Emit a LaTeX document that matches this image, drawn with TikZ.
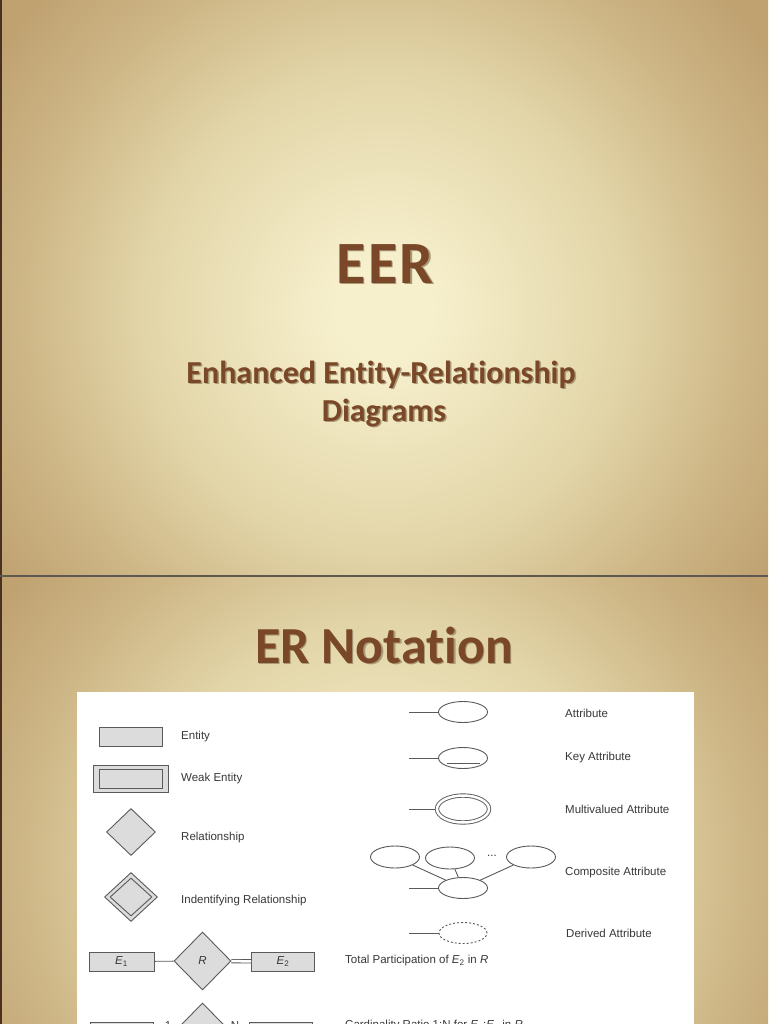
\documentclass[tikz,border=0pt]{standalone}
\usepackage{fontspec}
\setmainfont{Liberation Sans}
\newfontfamily\titlefont{Carlito}[Ligatures=NoCommon]
\usetikzlibrary{shapes.geometric}

\definecolor{bgin}{HTML}{F7F0CD}
\definecolor{bglight}{HTML}{E2D5A8}
\definecolor{bgmid}{HTML}{CDB585}
\definecolor{bgout}{HTML}{C0A271}
\definecolor{edgebrown}{HTML}{4A3020}
\definecolor{rulegray}{HTML}{5E5850}
\definecolor{titlebrown}{HTML}{7A4828}
\definecolor{titleshade}{HTML}{A99A78}
\definecolor{shapefill}{HTML}{DCDCDC}
\definecolor{shapeline}{HTML}{5A5A5A}
\definecolor{notetext}{HTML}{383838}

\pgfdeclareradialshading{slideglow}{\pgfpoint{0bp}{0bp}}{color(0bp)=(bgin); color(3bp)=(bgin); color(15bp)=(bglight); color(23bp)=(bgmid); color(29bp)=(bgout); color(50bp)=(bgout)}

\newcommand{\shtext}[1]{\makebox[0pt][l]{\hspace{1.5pt}\raisebox{-1.5pt}{\color{titleshade}#1}}#1}

\tikzset{
  titletext/.style={anchor=base, inner sep=0pt, text=titlebrown},
  lbl/.style={anchor=west, inner sep=0pt, text=notetext, font=\fontsize{11.5}{13}\selectfont},
  link/.style={draw=shapeline, line width=0.9pt},
  erbox/.style={draw=shapeline, fill=shapefill, line width=0.9pt, inner sep=0pt,
    minimum width=63pt, minimum height=19pt, text=notetext, font=\fontsize{11.5}{13}\selectfont},
  erdiamond/.style={diamond, draw=shapeline, fill=shapefill, line width=0.9pt, inner sep=0pt,
    minimum width=49pt, minimum height=47pt, text=notetext, font=\fontsize{11.5}{13}\selectfont},
  erattr/.style={ellipse, draw=shapeline, fill=white, line width=0.9pt, inner sep=0pt,
    minimum width=49pt, minimum height=21pt}
}

\begin{document}
\begin{tikzpicture}[x=1pt,y=-1pt]
	\useasboundingbox (0,0) rectangle (768,1024);
	\clip (0,0) rectangle (768,1024);
	% slide backgrounds
	\begin{scope}
		\clip (0,0) rectangle (768,575);
		\shade[shading=slideglow] (-16,-90) rectangle (784,710);
	\end{scope}
	\begin{scope}
		\clip (0,577) rectangle (768,1152);
		\shade[shading=slideglow] (-16,465) rectangle (784,1265);
	\end{scope}
	\draw[line width=1.5pt, edgebrown] (0.75,0) -- (0.75,1024);
	\draw[line width=1.5pt, rulegray] (0,576) -- (768,576);

	% first slide
	\node[titletext, font=\titlefont\bfseries\fontsize{60}{64}\selectfont\addfontfeature{LetterSpace=4}] (eer) at (385,283) {\shtext{EER}};
	\node[titletext, font=\titlefont\bfseries\fontsize{32}{38}\selectfont] (subone) at (381,383) {\shtext{Enhanced Entity-Relationship}};
	\node[titletext, font=\titlefont\bfseries\fontsize{32}{38}\selectfont] (subtwo) at (384,421) {\shtext{Diagrams}};

	% second slide
	\node[titletext, font=\titlefont\bfseries\fontsize{52}{56}\selectfont] (ernot) at (384,663) {\shtext{ER Notation}};
	\fill[white] (77,692) rectangle (694,1030);

	% left column
	\node[erbox] (ent) at (130.5,736.5) {};
	\node[lbl] (entlbl) at (181,737) {Entity};
	\node[erbox, minimum width=75pt, minimum height=27pt] (weak) at (130.5,778.5) {};
	\node[erbox] (weakin) at (130.5,778.5) {};
	\node[lbl] (weaklbl) at (181,779) {Weak Entity};
	\node[erdiamond] (rel) at (131,832) {};
	\node[lbl] (rellbl) at (181,838) {Relationship};
	\node[erdiamond, minimum width=53pt, minimum height=49pt] (idrel) at (131,897) {};
	\node[erdiamond, minimum width=42pt, minimum height=38pt] (idrelin) at (131,897) {};
	\node[lbl] (idrellbl) at (181,901) {Indentifying Relationship};

	% right column
	\coordinate (astub) at (409,712);
	\node[erattr] (att) at (463,712) {};
	\draw[link] (astub) -- (att);
	\node[lbl] (attlbl) at (565,713) {Attribute};

	\coordinate (kstub) at (409,758);
	\node[erattr] (katt) at (463,758) {};
	\draw[link] (kstub) -- (katt);
	\draw[link] ([shift={(-16,5)}]katt.center) -- ([shift={(17,5)}]katt.center);
	\node[lbl] (kattlbl) at (565,758) {Key Attribute};

	\coordinate (mstub) at (409,809);
	\node[erattr, double=white, double distance=2.5pt, minimum width=52pt, minimum height=27pt] (matt) at (463,809) {};
	\draw[link] (mstub) -- ([xshift=-2pt]matt.west);
	\node[lbl] (mattlbl) at (565,809) {Multivalued Attribute};

	\node[erattr, minimum height=22pt] (cone) at (395,857) {};
	\node[erattr, minimum height=22pt] (ctwo) at (450,858) {};
	\node[erattr, minimum height=22pt] (cthree) at (531,857) {};
	\node[lbl, anchor=base] (cdots) at (492,856) {...};
	\coordinate (cstub) at (409,888);
	\node[erattr] (catt) at (463,888) {};
	\draw[link] (cstub) -- (catt);
	\draw[link] (cone) -- (catt);
	\draw[link] (ctwo) -- (catt);
	\draw[link] (cthree) -- (catt);
	\node[lbl] (cattlbl) at (565,873) {Composite Attribute};

	\coordinate (dstub) at (409,933);
	\node[erattr, dash pattern=on 2pt off 2pt, minimum width=48pt] (datt) at (463,933) {};
	\draw[link] (dstub) -- (datt);
	\node[lbl] (dattlbl) at (566,933) {Derived Attribute};

	% participation rows
	\node[erbox, minimum width=65pt] (eone) at (121.5,961.5) {\textit{E}\textsubscript{1}};
	\node[erdiamond, minimum width=57pt, minimum height=58pt] (rtot) at (202.5,961) {\textit{R}};
	\node[erbox] (etwo) at (283,961.5) {\textit{E}\textsubscript{2}};
	\draw[link] (eone) -- (rtot);
	\draw[link, double, double distance=2.5pt] (rtot) -- (etwo);
	\node[lbl] (totlbl) at (345,961) {Total Participation of \textit{E}\textsubscript{2} in \textit{R}};

	\node[erbox] (ecl) at (121.5,1031.5) {};
	\node[erdiamond, minimum width=57pt, minimum height=58pt] (rcard) at (202.5,1032) {};
	\node[erbox] (ecr) at (281,1031.5) {};
	\draw[link] (ecl) -- (rcard);
	\draw[link] (rcard) -- (ecr);
	\node[lbl, anchor=base] (cardone) at (168,1029) {1};
	\node[lbl, anchor=base] (cardn) at (235,1029) {N};
	\node[lbl] (cardlbl) at (345,1026) {Cardinality Ratio 1:N for \textit{E}\textsubscript{1}:\textit{E}\textsubscript{2} in \textit{R}};
\end{tikzpicture}
\end{document}
